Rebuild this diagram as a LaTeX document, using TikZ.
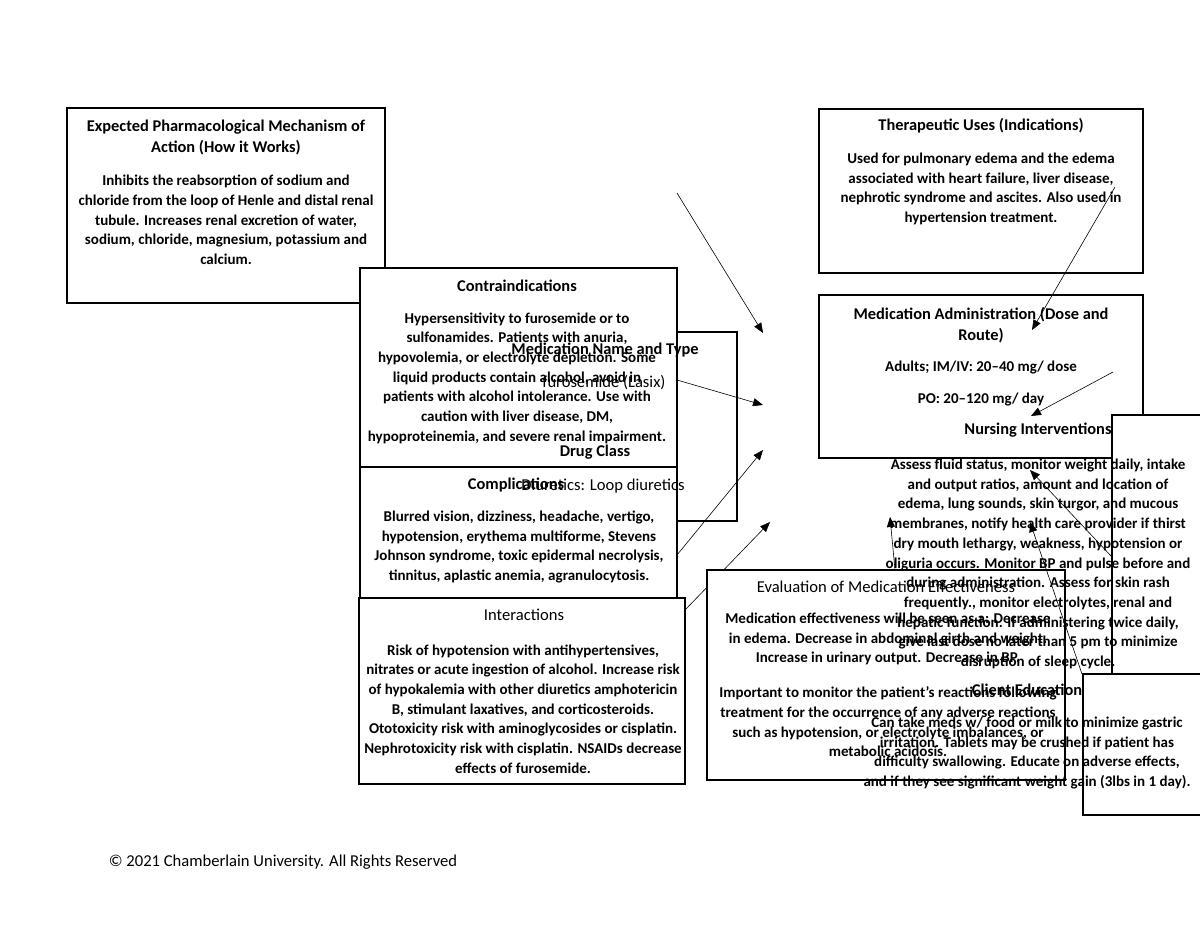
\documentclass[tikz,border=0pt]{standalone}
\usepackage{fontspec}
\setmainfont{Carlito}
\usetikzlibrary{arrows.meta}

\begin{document}
\begin{tikzpicture}[x=1pt,y=-1pt,
  box/.style={draw=black,fill=white,line width=1.8pt},
  head/.style={font=\fontsize{16.4}{21}\selectfont\bfseries,align=center,inner sep=0pt},
  headlt/.style={font=\fontsize{16.6}{21}\selectfont,align=center,inner sep=0pt},
  body/.style={font=\fontsize{15}{19.7}\selectfont\bfseries,align=center,inner sep=0pt},
  link/.style={line width=0.6pt,-{Triangle[length=10pt,width=8pt]}}]
  \useasboundingbox (0,0) rectangle (1200,927);
  \clip (0,0) rectangle (1200,927);
  \fill[white] (0,0) rectangle (1200,927);

  \draw[box] (67,108) rectangle (385,303);
  \draw[box] (470,332) rectangle (737,521);
  \draw[box] (360,268) rectangle (677,467);
  \draw[box] (360,467) rectangle (677,598);
  \draw[box] (359,598) rectangle (685,784);

  \coordinate (fromMech) at (677,193);  \coordinate (toMech) at (763,333);
  \coordinate (fromContra) at (677,380); \coordinate (toContra) at (763,405);
  \coordinate (fromCompl) at (677,555); \coordinate (toCompl) at (763,450);
  \coordinate (fromInter) at (686,609); \coordinate (toInter) at (770,522);
  \draw[link] (fromMech) -- (toMech);
  \draw[link] (fromContra) -- (toContra);
  \draw[link] (fromCompl) -- (toCompl);
  \draw[link] (fromInter) -- (toInter);

  \draw[box] (819,109) rectangle (1143,273);
  \draw[box] (819,295) rectangle (1143,458);
  \draw[box] (707,570) rectangle (1065,780);
  \draw[box] (1112,415) rectangle (1215,800);
  \draw[box] (1083,674) rectangle (1215,815);

  \coordinate (fromTher) at (1115,187); \coordinate (toTher) at (1032,330);
  \coordinate (fromAdmin) at (1113,372); \coordinate (toAdmin) at (1031,416);
  \coordinate (fromNurse) at (1112,557); \coordinate (toNurse) at (1030,470);
  \coordinate (fromEval) at (895,570);  \coordinate (toEval) at (890,517);
  \coordinate (fromClient) at (1082,674); \coordinate (toClient) at (1030,522);
  \draw[link] (fromTher) -- (toTher);
  \draw[link] (fromAdmin) -- (toAdmin);
  \draw[link] (fromNurse) -- (toNurse);
  \draw[link] (fromEval) -- (toEval);
  \draw[link] (fromClient) -- (toClient);

  % texts
  \node[head] (mechHead) at (226,137) {Expected Pharmacological Mechanism of\\Action (How it Works)};
  \node[body] (mechText) at (226,220) {Inhibits the reabsorption of sodium and\\chloride from the loop of Henle and distal renal\\tubule. Increases renal excretion of water,\\sodium, chloride, magnesium, potassium and\\calcium.};
  \node[head] (therHead) at (981,126) {Therapeutic Uses (Indications)};
  \node[body] (therText) at (981,189) {Used for pulmonary edema and the edema\\associated with heart failure, liver disease,\\nephrotic syndrome and ascites. Also used in\\hypertension treatment.};
  \node[head] (contraHead) at (517,286) {Contraindications};
  \node[body] (contraText) at (517,378) {Hypersensitivity to furosemide or to\\sulfonamides. Patients with anuria,\\hypovolemia, or electrolyte depletion. Some\\liquid products contain alcohol, avoid in\\patients with alcohol intolerance. Use with\\caution with liver disease, DM,\\hypoproteinemia, and severe renal impairment.};
  \node[head] (nameHead) at (605,350) {Medication Name and Type};
  \node[headlt] (nameText) at (604,383) {furosemide (Lasix)};
  \node[head] (classHead) at (595,452) {Drug Class};
  \node[headlt] (classText) at (603,486) {Diuretics: Loop diuretics};
  \node[head] (complHead) at (516,485) {Complications};
  \node[body] (complText) at (519,547) {Blurred vision, dizziness, headache, vertigo,\\hypotension, erythema multiforme, Stevens\\Johnson syndrome, toxic epidermal necrolysis,\\tinnitus, aplastic anemia, agranulocytosis.};
  \node[headlt] (interHead) at (524,615) {Interactions};
  \node[body] (interText) at (523,709) {Risk of hypotension with antihypertensives,\\nitrates or acute ingestion of alcohol. Increase risk\\of hypokalemia with other diuretics amphotericin\\B, stimulant laxatives, and corticosteroids.\\Ototoxicity risk with aminoglycosides or cisplatin.\\Nephrotoxicity risk with cisplatin. NSAIDs decrease\\effects of furosemide.};
  \node[head] (adminHead) at (981,325) {Medication Administration (Dose and\\Route)};
  \node[body] (adminIV) at (981,368) {Adults; IM/IV: 20--40 mg/ dose};
  \node[body] (adminPO) at (981,400) {PO: 20--120 mg/ day};
  \node[head] (nurseHead) at (1038,430) {Nursing Interventions};
  \node[body] (nurseText) at (1038,564) {Assess fluid status, monitor weight daily, intake\\and output ratios, amount and location of\\edema, lung sounds, skin turgor, and mucous\\membranes, notify health care provider if thirst\\dry mouth lethargy, weakness, hypotension or\\oliguria occurs. Monitor BP and pulse before and\\during administration. Assess for skin rash\\frequently., monitor electrolytes, renal and\\hepatic function. If administering twice daily,\\give last dose no later than 5 pm to minimize\\disruption of sleep cycle.};
  \node[headlt] (evalHead) at (886,587) {Evaluation of Medication Effectiveness};
  \node[body] (evalText) at (888,639) {Medication effectiveness will be seen as a: Decrease\\in edema. Decrease in abdominal girth and weight.\\Increase in urinary output. Decrease in BP.};
  \node[body] (evalNote) at (888,722) {Important to monitor the patient’s reactions following\\treatment for the occurrence of any adverse reactions\\such as hypotension, or electrolyte imbalances, or\\metabolic acidosis.};
  \node[head] (clientHead) at (1027,690) {Client Education};
  \node[body] (clientText) at (1027,753) {Can take meds w/ food or milk to minimize gastric\\irritation. Tablets may be crushed if patient has\\difficulty swallowing. Educate on adverse effects,\\and if they see significant weight gain (3lbs in 1 day).};
  \node[headlt] (footer) at (283,862) {© 2021 Chamberlain University. All Rights Reserved};
\end{tikzpicture}
\end{document}
